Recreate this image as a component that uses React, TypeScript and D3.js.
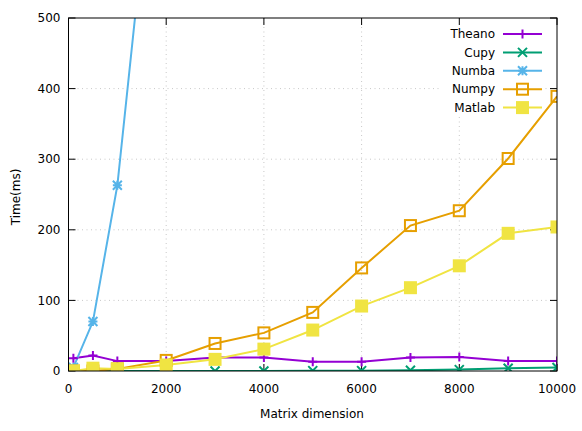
import React from "react";
import * as d3 from "d3";

const dims = [100, 500, 1000, 2000, 3000, 4000, 5000, 6000, 7000, 8000, 9000, 10000];
const theano = [18, 22, 14, 14, 19, 19, 13, 13, 19, 20, 14, 14];
const cupy = [0, 0, 0, 0, 0, 0, 0.5, 0.5, 1, 2, 4, 5];
const numbaDims = [100, 500, 1000, 2000];
const numba = [5, 70, 263, 920];
const numpy = [0, 0, 3, 15, 39, 54, 83, 146, 206, 227, 301, 389];
const matlab = [0, 4, 3, 8.5, 16.5, 31, 58, 92, 118, 149, 195, 204];

const xTicks = [0, 2000, 4000, 6000, 8000, 10000];
const yTicks = [0, 100, 200, 300, 400, 500];

const seriesNames = ["Theano", "Cupy", "Numba", "Numpy", "Matlab"];
const seriesColors = ["#9400d3", "#009e73", "#56b4e9", "#e69f00", "#f0e442"];

const W = 582, H = 431;
const L = 68.5, R = 557, T = 18, B = 371;
const FONT = "'DejaVu Sans', sans-serif";

function Marker({ kind, x, y, color }: { kind: number; x: number; y: number; color: string }) {
  const s = 4.5;
  if (kind === 0) {
    return <path d={`M${x - s},${y}H${x + s}M${x},${y - s}V${y + s}`} stroke={color} strokeWidth={2} />;
  }
  if (kind === 1) {
    return <path d={`M${x - s},${y - s}L${x + s},${y + s}M${x - s},${y + s}L${x + s},${y - s}`} stroke={color} strokeWidth={2} />;
  }
  if (kind === 2) {
    return (
      <path
        d={`M${x - s},${y}H${x + s}M${x},${y - s}V${y + s}M${x - s},${y - s}L${x + s},${y + s}M${x - s},${y + s}L${x + s},${y - s}`}
        stroke={color}
        strokeWidth={2}
      />
    );
  }
  if (kind === 3) {
    const h = 5.5;
    return <rect x={x - h} y={y - h} width={2 * h} height={2 * h} fill="none" stroke={color} strokeWidth={2} />;
  }
  const h = 6.5;
  return <rect x={x - h} y={y - h} width={2 * h} height={2 * h} fill={color} stroke="none" />;
}

export default function App() {
  const x = d3.scaleLinear().domain([0, 10000]).range([L, R]);
  const y = d3.scaleLinear().domain([0, 500]).range([B, T]);
  const line = d3
    .line<[number, number]>()
    .x((d) => x(d[0]))
    .y((d) => y(d[1]));

  const series: [number[], number[]][] = [
    [dims, theano],
    [dims, cupy],
    [numbaDims, numba],
    [dims, numpy],
    [dims, matlab],
  ];
  const drawOrder = [0, 1, 2, 3, 4];

  const legendTextX = 495;
  const legendLineX0 = 503;
  const legendLineX1 = 542;
  const legendY0 = 34;
  const legendDy = 18.4;

  return (
    <svg width={W} height={H} style={{ position: "absolute", left: 0, top: 0, background: "#fff" }} fontFamily={FONT}>
      <rect x={0} y={0} width={W} height={H} fill="#fff" />
      <defs>
        <clipPath id="plotclip">
          <rect x={L} y={T} width={R - L} height={B - T} />
        </clipPath>
      </defs>
      {/* grid */}
      {yTicks.slice(1, -1).map((t) => (
        <line key={"gy" + t} x1={L} x2={R} y1={y(t)} y2={y(t)} stroke="#c8c8c8" strokeWidth={1} strokeDasharray="1,3.5" />
      ))}
      {xTicks.slice(1, -1).map((t) => (
        <line key={"gx" + t} x1={x(t)} x2={x(t)} y1={T} y2={B} stroke="#c8c8c8" strokeWidth={1} strokeDasharray="1,3.5" />
      ))}
      {/* legend background */}
      <rect x={440} y={22} width={105} height={94} fill="#fff" />
      {/* ticks */}
      {yTicks.map((t) => (
        <g key={"ty" + t}>
          <line x1={L} x2={L + 7} y1={y(t)} y2={y(t)} stroke="#000" />
          <line x1={R} x2={R - 7} y1={y(t)} y2={y(t)} stroke="#000" />
          <text x={L - 8} y={y(t)} dy="0.35em" textAnchor="end" fontSize={12} fill="#000">
            {t}
          </text>
        </g>
      ))}
      {xTicks.map((t) => (
        <g key={"tx" + t}>
          <line x1={x(t)} x2={x(t)} y1={B} y2={B - 7} stroke="#000" />
          <line x1={x(t)} x2={x(t)} y1={T} y2={T + 7} stroke="#000" />
          <text x={x(t)} y={389} dy="0.35em" textAnchor="middle" fontSize={12} fill="#000">
            {t}
          </text>
        </g>
      ))}
      {/* data */}
      <g clipPath="url(#plotclip)">
        {drawOrder.map((i) => {
          const [xs, ys] = series[i];
          const pts: [number, number][] = xs.map((d, j) => [d, ys[j]]);
          return <path key={"l" + i} d={line(pts) || ""} fill="none" stroke={seriesColors[i]} strokeWidth={2} />;
        })}
        {drawOrder.map((i) => {
          const [xs, ys] = series[i];
          return (
            <g key={"m" + i}>
              {xs.map((d, j) => (
                <Marker key={j} kind={i} x={x(d)} y={y(ys[j])} color={seriesColors[i]} />
              ))}
            </g>
          );
        })}
      </g>
      {/* border */}
      <rect x={L} y={T} width={R - L} height={B - T} fill="none" stroke="#000" strokeWidth={1} />
      {/* legend */}
      {seriesNames.map((n, i) => {
        const ly = legendY0 + i * legendDy;
        return (
          <g key={"lg" + i}>
            <text x={legendTextX} y={ly} dy="0.35em" textAnchor="end" fontSize={12} fill="#000">
              {n}
            </text>
            <line x1={legendLineX0} x2={legendLineX1} y1={ly} y2={ly} stroke={seriesColors[i]} strokeWidth={2} />
            <Marker kind={i} x={(legendLineX0 + legendLineX1) / 2} y={ly} color={seriesColors[i]} />
          </g>
        );
      })}
      {/* axis titles */}
      <text x={312} y={414} dy="0.35em" textAnchor="middle" fontSize={12} fill="#000">
        Matrix dimension
      </text>
      <text transform={`translate(16,197) rotate(-90)`} dy="0.35em" textAnchor="middle" fontSize={12} fill="#000">
        Time(ms)
      </text>
    </svg>
  );
}
